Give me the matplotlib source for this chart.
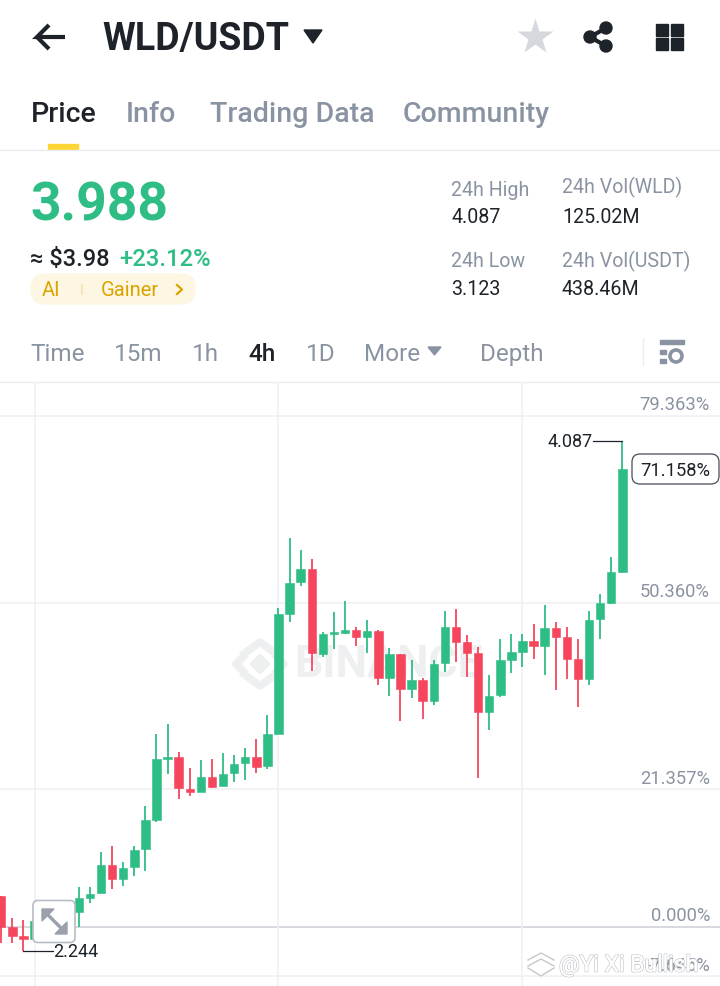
import matplotlib
matplotlib.use("Agg")
import matplotlib.pyplot as plt
import matplotlib.patheffects as pe
from matplotlib.patches import FancyBboxPatch, Polygon, Circle, Rectangle

plt.rcParams["font.family"] = ["Roboto", "DejaVu Sans"]

# 4h candles, first one sits at index -3
first_index = -3
opens = [2.443, 2.331, 2.297, 2.285, 2.352, 2.372, 2.360, 2.383, 2.434, 2.452, 2.553, 2.504, 2.546, 2.612, 2.716,
         2.939, 2.944, 2.830, 2.820, 2.873, 2.839, 2.887, 2.922, 2.946, 2.913, 3.027, 3.464, 3.577, 3.626, 3.319,
         3.391, 3.394, 3.405, 3.379, 3.402, 3.231, 3.318, 3.192, 3.223, 3.147, 3.284, 3.416, 3.361, 3.320, 3.109,
         3.168, 3.297, 3.326, 3.365, 3.346, 3.413, 3.379, 3.299, 3.226, 3.443, 3.501, 3.616]
closes = [2.331, 2.297, 2.288, 2.352, 2.372, 2.360, 2.380, 2.434, 2.450, 2.553, 2.504, 2.545, 2.610, 2.716, 2.939,
          2.946, 2.832, 2.820, 2.872, 2.838, 2.885, 2.921, 2.946, 2.910, 3.027, 3.461, 3.576, 3.624, 3.320, 3.389,
          3.396, 3.406, 3.379, 3.402, 3.232, 3.318, 3.192, 3.223, 3.148, 3.282, 3.416, 3.361, 3.321, 3.109, 3.167,
          3.295, 3.325, 3.366, 3.346, 3.412, 3.380, 3.299, 3.226, 3.441, 3.501, 3.613, 3.988]
highs = [2.443, 2.361, 2.355, 2.370, 2.385, 2.392, 2.395, 2.474, 2.474, 2.601, 2.623, 2.566, 2.623, 2.769, 3.027,
         3.064, 2.962, 2.906, 2.933, 2.937, 2.961, 2.952, 2.977, 3.010, 3.096, 3.483, 3.736, 3.694, 3.660, 3.398,
         3.471, 3.508, 3.414, 3.441, 3.405, 3.339, 3.318, 3.295, 3.230, 3.296, 3.472, 3.479, 3.385, 3.344, 3.243,
         3.371, 3.391, 3.390, 3.426, 3.495, 3.432, 3.414, 3.371, 3.474, 3.534, 3.668, 4.087]
lows = [2.272, 2.271, 2.244, 2.279, 2.340, 2.348, 2.350, 2.331, 2.418, 2.452, 2.467, 2.478, 2.516, 2.534, 2.711,
        2.884, 2.792, 2.805, 2.820, 2.834, 2.839, 2.855, 2.862, 2.888, 2.902, 3.027, 3.435, 3.565, 3.256, 3.308,
        3.337, 3.390, 3.347, 3.322, 3.207, 3.167, 3.075, 3.160, 3.081, 3.132, 3.253, 3.289, 3.236, 2.868, 3.044,
        3.163, 3.250, 3.272, 3.299, 3.243, 3.189, 3.226, 3.125, 3.206, 3.373, 3.498, 3.612]

base_price = 2.33
pct_ticks = [79.363, 50.360, 21.357, 0.0, -7.645]
pct_labels = ["79.363%", "50.360%", "21.357%", "0.000%", "-7.645%"]
grid_candles = [0, 22, 44]
high_price = 4.087
low_price = 2.244
last_pct = "71.158%"

tabs = ["Price", "Info", "Trading Data", "Community"]
periods = ["Time", "15m", "1h", "4h", "1D", "More", "Depth"]

DARK = "#1e2329"
GREY = "#8a93a2"
GREEN = "#2ebd85"
RED = "#f6465d"
GRID = "#f0f1f3"

fig = plt.figure(figsize=(7.2, 9.86), dpi=100)

# page furniture in pixel coordinates
ui = fig.add_axes([0, 0, 1, 1], zorder=0)
ui.set_xlim(0, 720)
ui.set_ylim(986, 0)
ui.axis("off")


def txt(a, x, y, s, size, color=DARK, weight="normal", ha="left"):
    return a.text(x, y, s, fontsize=size, color=color, fontweight=weight, ha=ha, va="center")


# header
ui.plot([65, 37, 49], [37, 37, 25], color=DARK, lw=3, solid_capstyle="butt", solid_joinstyle="miter")
ui.plot([37, 49], [37, 49], color=DARK, lw=3, solid_capstyle="butt")
txt(ui, 102, 40, "WLD/USDT", 27, weight="bold")
ui.add_patch(Polygon([(304, 30), (322, 30), (313, 43)], color=DARK))
ui.plot([535], [37], marker="*", ms=27, color="#d5d9de", mec="none")
ui.plot([606, 590, 606], [28, 37, 46], color=DARK, lw=3)
for cx, cy in [(606, 28), (590, 37), (606, 46)]:
    ui.add_patch(Circle((cx, cy), 6, color=DARK))
for sx, sy in [(656, 24), (671, 24), (656, 38), (671, 38)]:
    ui.add_patch(Rectangle((sx, sy), 12, 12, color=DARK))

for name, x in zip(tabs, [31, 126, 210, 403]):
    txt(ui, x, 115, name, 20.5, DARK if name == "Price" else GREY, "medium")
ui.add_patch(Rectangle((48, 144), 30, 5, color="#fcd535"))
ui.plot([0, 720], [150, 150], color="#eaecef", lw=1)

# price block
txt(ui, 30, 206, "3.988", 38.5, GREEN, "bold")
txt(ui, 30, 259.5, "≈ $3.98", 17, weight="medium")
txt(ui, 119, 259.5, "+23.12%", 17.2, GREEN, "medium")
ui.add_patch(FancyBboxPatch((36, 279), 154, 20, boxstyle="round,pad=0,rounding_size=8",
                            mutation_aspect=1, fc="#fdf6e3", ec="#fdf6e3", lw=8))
txt(ui, 42, 290.5, "AI", 14.5, "#dba300")
ui.plot([82, 82], [285, 294], color="#f5e6b5", lw=1.5)
txt(ui, 101, 290.5, "Gainer", 14.5, "#dba300")
ui.plot([177, 182, 177], [285, 289.5, 294], color="#dba300", lw=1.6)

txt(ui, 451, 190.5, "24h High", 14.1, GREY)
txt(ui, 451, 217.5, "4.087", 14.1)
txt(ui, 562, 187.5, "24h Vol(WLD)", 14.1, GREY)
txt(ui, 562, 217.5, "125.02M", 14.1)
txt(ui, 451, 261.5, "24h Low", 14.1, GREY)
txt(ui, 451, 289.5, "3.123", 14.1)
txt(ui, 562, 261.5, "24h Vol(USDT)", 14.1, GREY)
txt(ui, 562, 289.5, "438.46M", 14.1)

# period row
for name, x in zip(periods, [30, 114, 192, 248, 306, 364, 480]):
    txt(ui, x, 354.5, name, 17.5, DARK if name == "4h" else GREY, "medium" if name == "4h" else "normal")
ui.add_patch(Polygon([(428, 347), (441, 347), (434.5, 355)], color=GREY))
ui.plot([643, 643], [339, 365], color="#eaecef", lw=1)
ui.add_patch(Rectangle((660, 340), 24, 3.5, color=GREY))
ui.add_patch(Rectangle((660, 350), 6, 3.5, color=GREY))
ui.add_patch(Rectangle((660, 359), 6, 3.5, color=GREY))
ui.add_patch(Circle((676, 356), 6, fc="white", ec=GREY, lw=2.6))
ui.plot([0, 720], [382, 382], color="#eaecef", lw=1)

# faint exchange mark behind the candles
mark = "#eeeff0"
ui.add_patch(Polygon([(260, 654), (270, 664), (260, 674), (250, 664)], color=mark))
ui.plot([245, 260, 275], [653, 642, 653], color=mark, lw=5.5)
ui.plot([245, 260, 275], [675, 686, 675], color=mark, lw=5.5)
ui.plot([243, 236, 243], [657, 664, 671], color=mark, lw=5.5)
ui.plot([277, 284, 277], [657, 664, 671], color=mark, lw=5.5)
txt(ui, 294, 665, "BINANCE", 32, mark, "bold")

# candles
ax = fig.add_axes([0, 0, 1, 604 / 986], zorder=1)
ax.patch.set_visible(False)
ax.set_xlim(-3.111, 61.81)
ax.set_ylim(2.1165, 4.3018)
for s in ax.spines.values():
    s.set_visible(False)
ax.set_xticks([])
ax.set_yticks([])

tick_prices = [base_price * (1 + p / 100) for p in pct_ticks]
for price, p in zip(tick_prices, pct_ticks):
    ax.axhline(price, color="#cfd4da" if p == 0 else GRID, lw=1.2, zorder=1)
for g in grid_candles:
    ax.axvline(g, color=GRID, lw=1.2, zorder=1)

xs = list(range(first_index, first_index + len(opens)))
colors = [GREEN if c >= o else RED for o, c in zip(opens, closes)]
ax.vlines(xs, lows, highs, colors=colors, lw=1.3, zorder=2)
ax.bar(xs, [abs(c - o) for o, c in zip(opens, closes)], bottom=[min(o, c) for o, c in zip(opens, closes)],
       width=0.76, color=colors, edgecolor=colors, lw=0.4, zorder=3)

# high and low call-outs
ax.plot([50.35, 53], [high_price, high_price], color=DARK, lw=0.9, zorder=4)
ax.text(50.35, high_price - 0.002, "4.087", fontsize=13, color=DARK, ha="right", va="center", zorder=4)
ax.plot([-1, 1.7], [low_price, low_price], color=DARK, lw=0.9, zorder=4)
ax.text(1.7, low_price - 0.004, "2.244", fontsize=13, color=DARK, ha="left", va="center", zorder=6)

for price, label in zip(tick_prices, pct_labels):
    ax.annotate(label, (1, price), xycoords=("axes fraction", "data"), xytext=(-10, 10.5),
                textcoords="offset pixels", fontsize=13.2, color=GREY, ha="right", va="center", zorder=4)

# overlay bits: expand button, last price tag, share watermark
top = fig.add_axes([0, 0, 1, 1], zorder=2)
top.patch.set_visible(False)
top.set_xlim(0, 720)
top.set_ylim(986, 0)
top.axis("off")

top.add_patch(FancyBboxPatch((33, 900.5), 42, 42, boxstyle="round,pad=0,rounding_size=5",
                             fc="white", ec="#b7bdc6", lw=1.2))
top.plot([46, 63], [913, 930], color="#9aa1ac", lw=2.4)
top.add_patch(Polygon([(42, 909), (54, 909), (42, 921)], color="#9aa1ac"))
top.add_patch(Polygon([(67, 934), (55, 934), (67, 922)], color="#9aa1ac"))

top.add_patch(FancyBboxPatch((632, 454), 87, 30, boxstyle="round,pad=0,rounding_size=8",
                             fc="white", ec="#474d57", lw=0.9))
txt(top, 675.5, 470.5, last_pct, 13.2, DARK, ha="center")

wm = txt(top, 559, 965, "@Yi Xi Bullish", 16.5, "white")
wm.set_path_effects([pe.withStroke(linewidth=1.2, foreground="#c8cbcf"), pe.Normal()])
for dx in [(528, 541, 554)]:
    top.plot(dx, [960, 953, 960], color="#c4c7cb", lw=1)
    top.plot(dx, [966, 959, 966], color="#c4c7cb", lw=1)
    top.plot(dx, [968, 976, 968], color="#c4c7cb", lw=1)

fig.savefig("out.png", dpi=100)
